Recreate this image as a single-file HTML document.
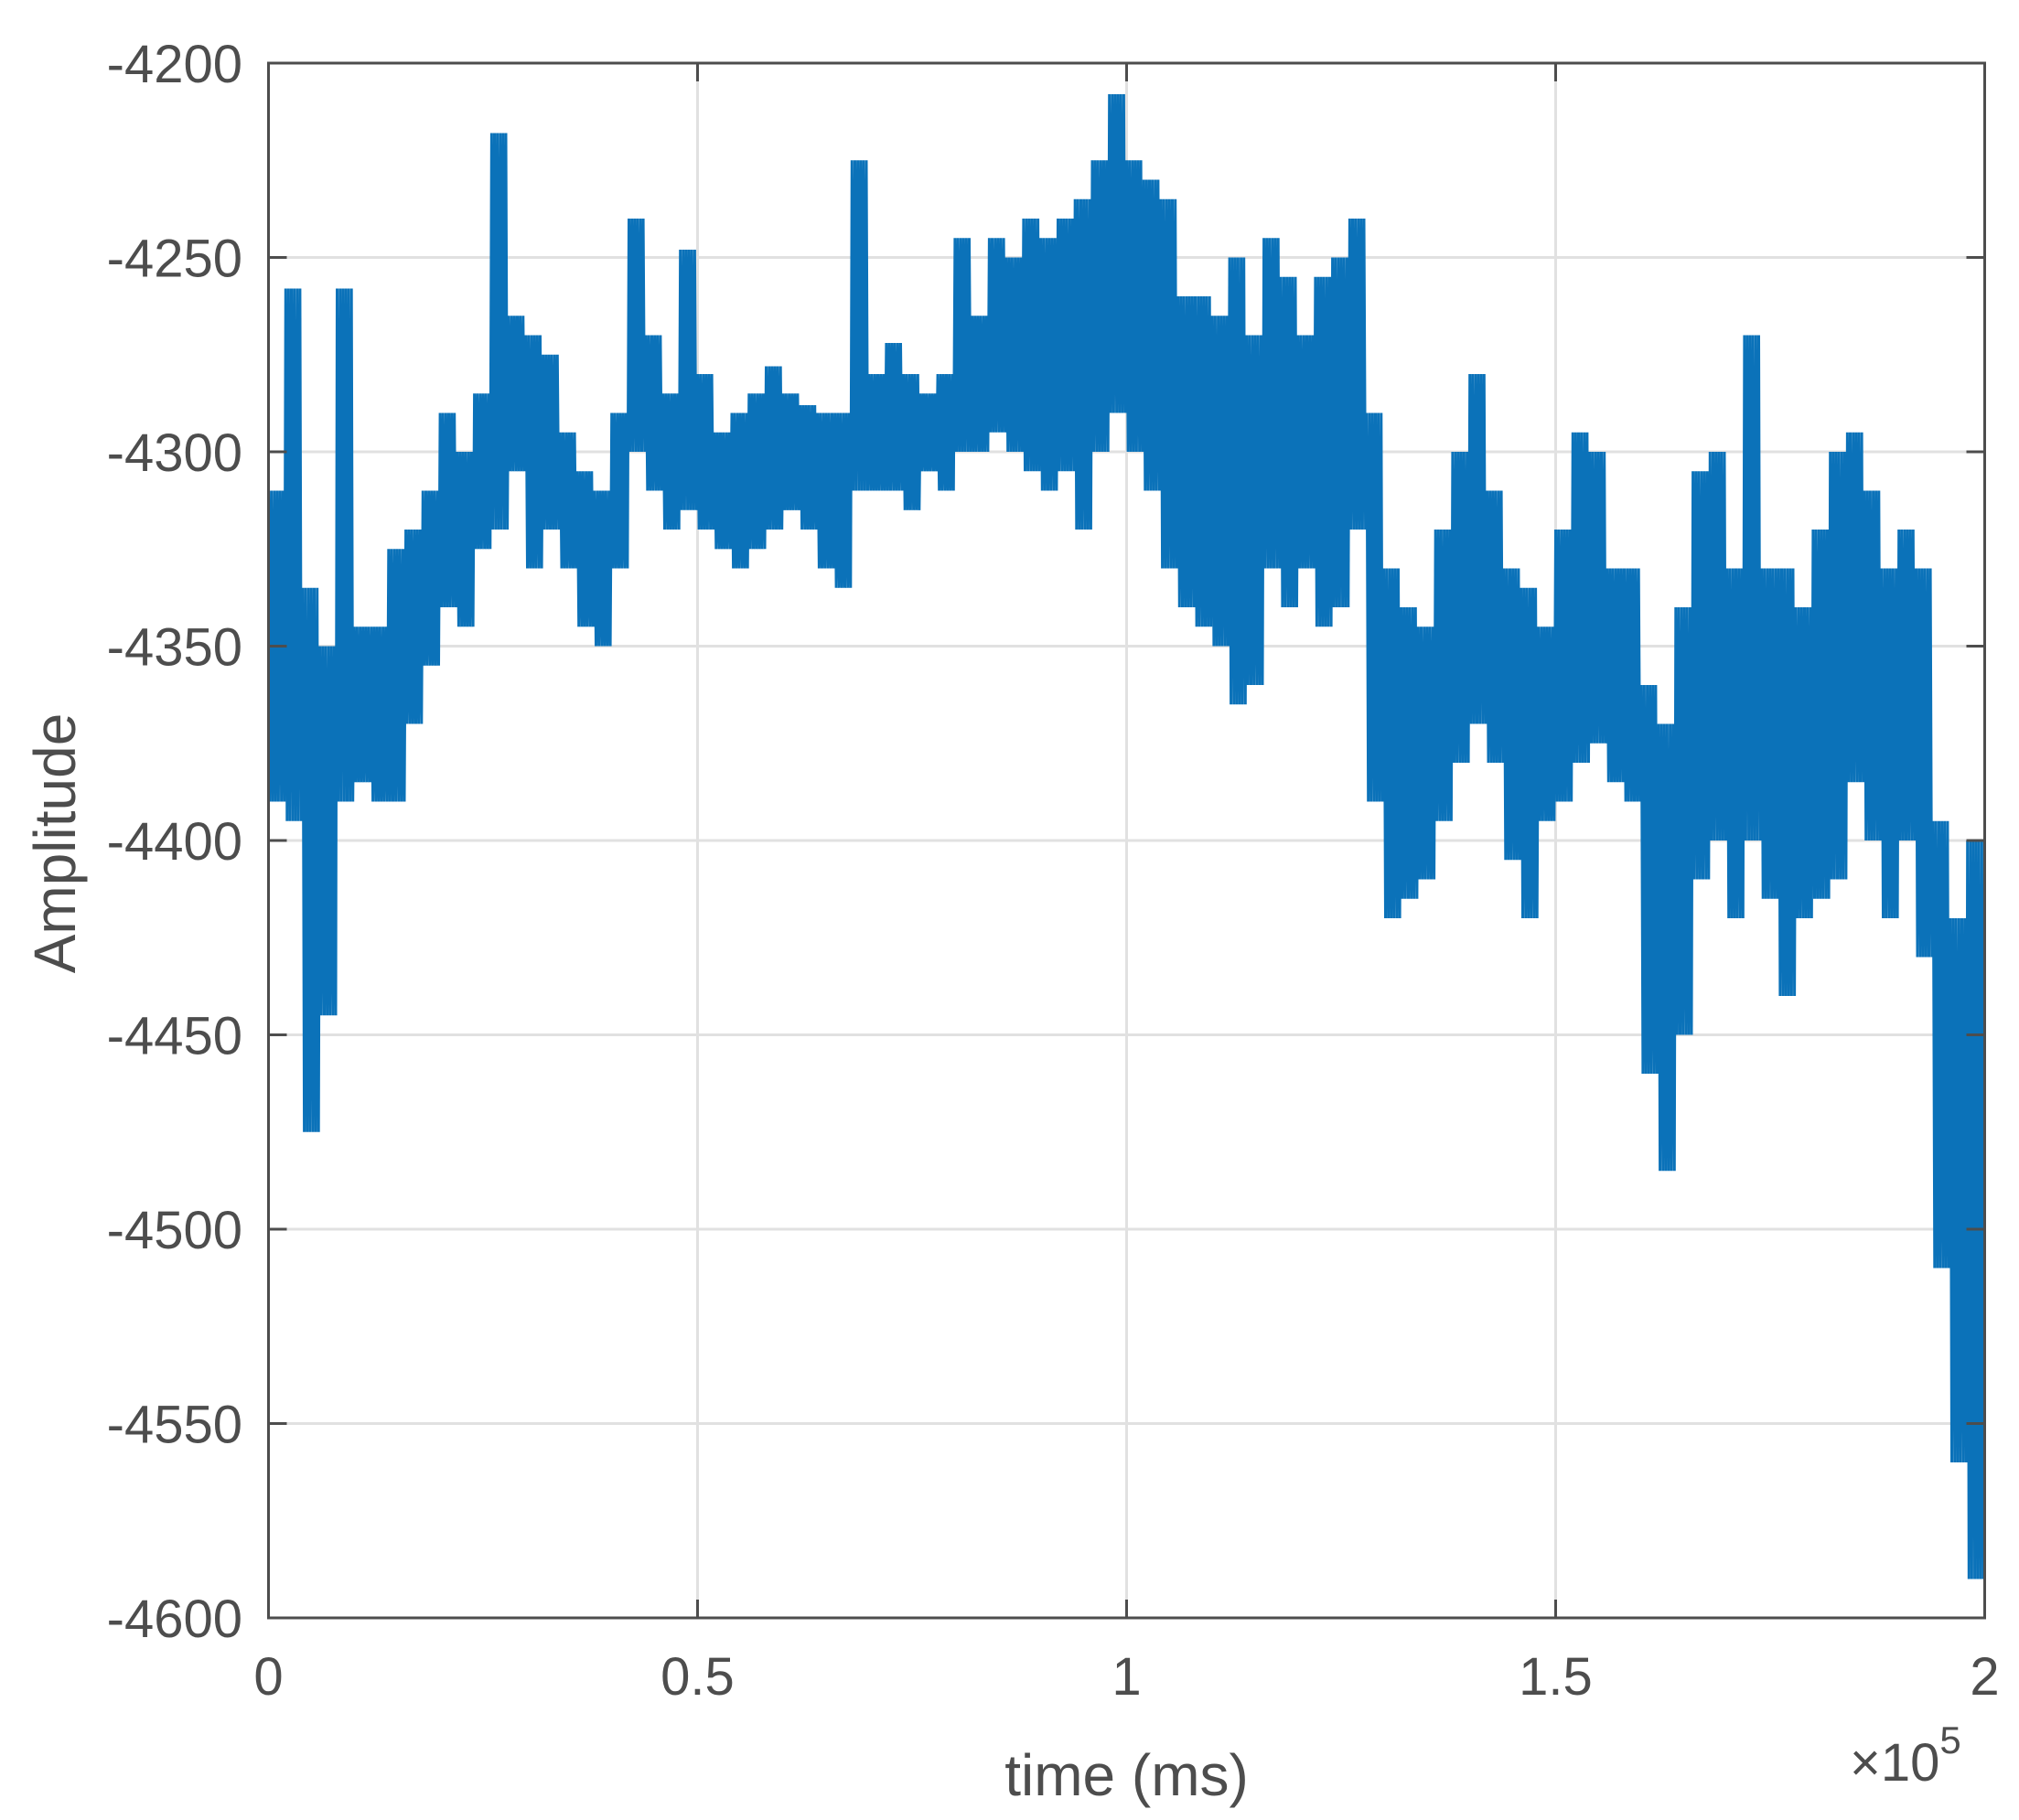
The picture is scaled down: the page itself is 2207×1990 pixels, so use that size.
<!DOCTYPE html>
<html><head><meta charset="utf-8"><style>
html,body{margin:0;padding:0;background:#fff;}
svg{display:block;font-family:"Liberation Sans",Arial,sans-serif;}
</style></head><body>
<svg id="chart" width="2207" height="1990" viewBox="0 0 2207 1990" xmlns="http://www.w3.org/2000/svg">
<rect width="2207" height="1990" fill="#fff"/>
<g id="grid"></g>
<g id="series"></g>
<g id="axes"></g>
</svg>
<script>
const yTicks = [-4200,-4250,-4300,-4350,-4400,-4450,-4500,-4550,-4600];
const xTicks = [0,0.5,1,1.5,2];
const xTickLabels = ["0","0.5","1","1.5","2"];
// 2000 ms bins: upper and lower envelope of the signal
const binStart = [0,2,4,6,8,10,12,14,16,18,20,22,24,26,28,30,32,34,36,38,40,42,44,46,48,50,52,54,56,58,60,62,64,66,68,70,72,74,76,78,80,82,84,86,88,90,92,94,96,98,100,102,104,106,108,110,112,114,116,118,120,122,124,126,128,130,132,134,136,138,140,142,144,146,148,150,152,154,156,158,160,162,164,166,168,170,172,174,176,178,180,182,184,186,188,190,192,194,196,198];
const hiVals = [-4310,-4258,-4335,-4350,-4258,-4345,-4345,-4325,-4320,-4310,-4290,-4300,-4285,-4218,-4265,-4270,-4275,-4295,-4305,-4310,-4290,-4240,-4270,-4285,-4248,-4280,-4295,-4290,-4285,-4278,-4285,-4288,-4290,-4290,-4225,-4280,-4272,-4280,-4285,-4280,-4245,-4265,-4245,-4250,-4240,-4245,-4240,-4235,-4225,-4208,-4225,-4230,-4235,-4260,-4260,-4265,-4250,-4270,-4245,-4255,-4270,-4255,-4250,-4240,-4290,-4330,-4340,-4345,-4320,-4300,-4280,-4310,-4330,-4335,-4345,-4320,-4295,-4300,-4330,-4330,-4360,-4370,-4340,-4305,-4300,-4330,-4270,-4330,-4330,-4340,-4320,-4300,-4295,-4310,-4330,-4320,-4330,-4395,-4420,-4400];
const loVals = [-4390,-4395,-4475,-4445,-4390,-4385,-4390,-4390,-4370,-4355,-4340,-4345,-4325,-4320,-4305,-4330,-4320,-4330,-4345,-4350,-4330,-4300,-4310,-4320,-4315,-4320,-4325,-4330,-4325,-4320,-4315,-4320,-4330,-4335,-4310,-4310,-4310,-4315,-4305,-4310,-4300,-4300,-4295,-4300,-4305,-4310,-4305,-4320,-4300,-4290,-4300,-4310,-4330,-4340,-4345,-4350,-4365,-4360,-4330,-4340,-4330,-4345,-4340,-4320,-4390,-4420,-4415,-4410,-4395,-4380,-4370,-4380,-4405,-4420,-4395,-4390,-4380,-4375,-4385,-4390,-4460,-4485,-4450,-4410,-4400,-4420,-4400,-4415,-4440,-4420,-4415,-4410,-4385,-4400,-4420,-4400,-4430,-4510,-4560,-4590];
const binWidth = 2; // x1000 ms

const L=293.5,R=2169.5,T=69,B=1769;
const NS="http://www.w3.org/2000/svg";
const xs = v => L + (v/200)*(R-L);
const xt = v => L + (v/2)*(R-L);
const ys = v => T + (-4200 - v)/400*(B-T);
function el(tag, attrs, parent, text){
  const e=document.createElementNS(NS,tag);
  for(const k in attrs) e.setAttribute(k,attrs[k]);
  if(text!==undefined) e.textContent=text;
  parent.appendChild(e); return e;
}
const grid=document.getElementById('grid');
const axes=document.getElementById('axes');
const series=document.getElementById('series');

yTicks.forEach(v=>{
  const g=el('line',{x1:L,x2:R,y1:ys(v),y2:ys(v),stroke:'#e1e1e1','stroke-width':3},grid);
  
  
});
xTicks.forEach(v=>{
  const g=el('line',{x1:xt(v),x2:xt(v),y1:T,y2:B,stroke:'#e1e1e1','stroke-width':3},grid);
  
  
});

let pts=[];
binStart.forEach((s,i)=>{
  const n=12, w=binWidth/n;
  for(let k=0;k<n;k++){
    const v = (k%2===0)?hiVals[i]:loVals[i];
    pts.push(xs(s+k*w).toFixed(1)+','+ys(v).toFixed(1));
  }
});
const line=el('polyline',{points:pts.join(' '),fill:'none',stroke:'#0b72b9','stroke-width':3,'stroke-linejoin':'miter'},series);



const box=el('rect',{x:L,y:T,width:R-L,height:B-T,fill:'none',stroke:'#4d4d4d','stroke-width':3},axes);



yTicks.forEach(v=>{
  el('line',{x1:L,x2:L+20,y1:ys(v),y2:ys(v),stroke:'#4d4d4d','stroke-width':3},axes);
  el('line',{x1:R-20,x2:R,y1:ys(v),y2:ys(v),stroke:'#4d4d4d','stroke-width':3},axes);
  const t=el('text',{x:265,y:ys(v)+21,'text-anchor':'end','font-size':58,fill:'#4d4d4d'},axes,String(v));
  
  
});
xTicks.forEach((v,i)=>{
  el('line',{x1:xt(v),x2:xt(v),y1:B,y2:B-20,stroke:'#4d4d4d','stroke-width':3},axes);
  el('line',{x1:xt(v),x2:xt(v),y1:T,y2:T+20,stroke:'#4d4d4d','stroke-width':3},axes);
  const t=el('text',{x:xt(v),y:1853,'text-anchor':'middle','font-size':58,fill:'#4d4d4d'},axes,xTickLabels[i]);
  
  
});
const xl=el('text',{x:(L+R)/2,y:1963,'text-anchor':'middle','font-size':64,fill:'#4d4d4d'},axes,'time (ms)');


const yl=el('text',{x:0,y:0,transform:'translate(82,922) rotate(-90)','text-anchor':'middle','font-size':64,fill:'#4d4d4d'},axes,'Amplitude');


const ex=el('text',{x:2022,y:1947,'font-size':58,fill:'#4d4d4d'},axes,'');


el('tspan',{},ex,'\u00d710');
el('tspan',{dy:-30,'font-size':42},ex,'5');
</script>
</body></html>
